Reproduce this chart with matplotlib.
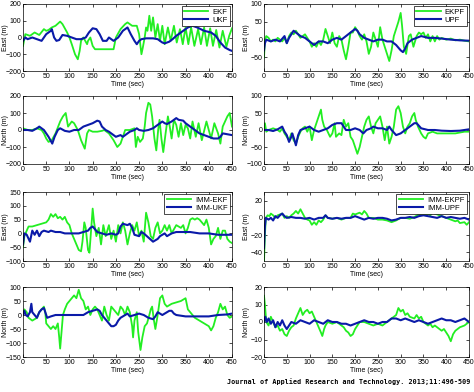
import matplotlib
matplotlib.use("Agg")
import matplotlib.pyplot as plt

# ---- data (time in sec, error in m) ----
t_ekf_e = [0, 5, 15, 25, 35, 45, 50, 55, 62, 70, 80, 85, 95, 100, 105, 112, 118, 122, 125, 130, 138, 140, 145, 150, 155, 175, 195, 200, 210, 220, 225, 235, 245, 250, 255, 258, 262, 265, 268, 272, 276, 280, 285, 290, 295, 300, 305, 312, 318, 325, 331, 338, 344, 350, 356, 362, 369, 377, 383, 390, 396, 403, 409, 416, 423, 430, 438, 444, 450]
ekf_e = [-50, 20, 10, 30, 15, 50, 40, 45, 60, 70, 95, 80, 30, 0, -40, -100, -130, -80, -20, 0, -40, -20, 0, -50, -70, -70, -70, 0, 50, 80, 90, 70, 70, 20, -100, -60, 0, 60, 40, 130, 40, 120, 0, 80, -20, 70, -40, 60, -20, 70, -30, 50, -40, 60, -40, 60, -50, 50, -40, 60, -50, 55, -50, 45, -60, 40, -55, 10, 55]
t_ukf_e = [0, 5, 10, 20, 30, 40, 45, 50, 60, 62, 67, 72, 78, 85, 95, 105, 115, 125, 135, 142, 150, 158, 165, 172, 180, 185, 190, 195, 205, 215, 220, 225, 232, 240, 245, 250, 255, 265, 280, 290, 300, 305, 315, 322, 330, 340, 355, 365, 375, 390, 405, 415, 425, 435, 445, 450]
ukf_e = [-20, 0, -10, 0, -10, -20, 0, 20, 40, 50, 0, -20, -15, 15, 10, 0, -10, -10, 0, 30, 55, 50, 20, -20, -20, 0, -10, -20, 0, 40, 50, 60, 20, -20, -40, -20, -10, -5, -5, -10, -30, -35, -25, -10, 10, 30, 60, 70, 60, 40, 30, 10, -30, -60, -75, -80]

t_ekf_n = [0, 10, 20, 30, 40, 45, 50, 55, 62, 70, 80, 86, 92, 97, 105, 110, 118, 125, 133, 138, 142, 150, 160, 170, 175, 185, 195, 203, 210, 215, 220, 230, 240, 243, 247, 252, 258, 262, 265, 270, 274, 278, 283, 287, 291, 294, 298, 302, 307, 312, 316, 320, 325, 330, 335, 340, 345, 350, 355, 360, 365, 372, 378, 385, 395, 405, 412, 420, 425, 430, 440, 445, 450]
ekf_n = [10, 0, 0, 10, 0, -20, -50, -70, -60, -20, 50, 80, 100, 20, 50, 40, 0, -60, -110, -20, 0, -10, -10, -5, 0, -20, -60, -100, -80, -40, 0, 0, 10, -100, -40, -70, -50, 20, 100, 160, 150, 80, -50, -120, 0, 60, -50, -130, -20, 80, 20, -50, 60, 30, -40, 40, -30, 30, 10, -50, 50, -40, 40, -60, 50, -50, 40, -20, -80, 20, 80, 100, 20]
t_ukf_n = [0, 10, 20, 30, 35, 45, 55, 63, 68, 75, 80, 90, 100, 110, 120, 130, 140, 150, 160, 165, 170, 178, 185, 195, 200, 210, 215, 220, 225, 230, 240, 245, 250, 260, 270, 280, 290, 300, 305, 310, 320, 330, 335, 345, 350, 360, 370, 380, 390, 400, 410, 420, 425, 430, 440, 450]
ukf_n = [0, 0, -5, 10, 20, 0, -40, -80, -40, 0, 10, -5, -10, 0, 0, 20, 30, 40, 55, 50, 20, 0, -10, -30, -40, -30, -40, -30, -20, -10, 0, 10, 0, -5, 0, 10, 30, 50, 40, 35, 50, 70, 60, 55, 40, 20, 0, -20, -30, -40, -50, -50, -40, -20, -25, -30]

t_ekpf_e = [0, 2, 5, 10, 15, 20, 25, 30, 35, 40, 45, 50, 55, 60, 65, 70, 75, 80, 85, 90, 95, 100, 105, 110, 115, 120, 125, 130, 135, 140, 145, 150, 155, 160, 165, 170, 175, 180, 185, 190, 195, 200, 205, 210, 215, 220, 225, 230, 235, 240, 245, 250, 255, 260, 265, 270, 275, 280, 285, 290, 295, 300, 303, 307, 312, 318, 322, 328, 335, 340, 345, 350, 355, 360, 365, 370, 375, 380, 385, 390, 400, 410, 420, 430, 440, 450]
ekpf_e = [-50, 0, 10, 5, -5, 0, -5, 5, 0, -5, 5, -10, 10, 20, 15, 25, 15, 5, 10, 15, 5, -5, -20, -10, -20, -5, -15, 0, 30, 10, -10, 20, -10, -20, 10, 0, -30, -55, -20, 20, 20, 35, 25, 10, 0, 15, -5, -40, -20, 20, 0, -20, 35, 0, -20, -40, -60, -30, 10, 30, 50, 75, 40, -20, -40, 10, 15, -20, 10, 20, 15, 20, 5, 15, -5, 10, -5, 10, 0, 5, 0, 3, -2, 0, -3, -5]
t_upf_e = [0, 2, 5, 15, 25, 35, 45, 50, 55, 60, 65, 70, 80, 90, 100, 110, 120, 130, 140, 150, 160, 170, 180, 190, 200, 205, 210, 220, 230, 240, 250, 260, 270, 280, 290, 300, 305, 310, 315, 325, 335, 345, 360, 375, 390, 410, 430, 450]
upf_e = [-30, -10, 0, -5, 0, -5, 10, -10, 5, 15, 25, 20, 10, 5, -5, -15, -5, -5, -10, 0, 5, 0, 10, 20, 30, 25, 15, 5, 0, -5, 0, 0, -5, -5, -15, -30, -35, -25, -10, 0, 5, 10, 5, 5, 3, 0, -2, -3]

t_ekpf_n = [0, 2, 5, 10, 20, 30, 35, 40, 45, 50, 55, 60, 65, 70, 75, 80, 85, 90, 95, 100, 105, 110, 115, 120, 125, 128, 132, 138, 145, 150, 155, 158, 165, 170, 175, 180, 185, 190, 195, 200, 205, 210, 215, 220, 225, 230, 235, 240, 245, 250, 255, 260, 265, 270, 275, 280, 285, 290, 295, 300, 305, 310, 315, 320, 325, 330, 333, 338, 345, 350, 355, 360, 370, 380, 400, 420, 440, 450]
ekpf_n = [0, 20, -5, 0, 5, 0, -5, 5, -10, -20, -30, -10, -30, -40, -20, -5, 5, 10, -5, 10, -30, 0, 20, 40, 60, 30, 10, 0, -20, -10, 20, -20, -10, -15, 30, 10, 20, -20, -30, -50, -70, -50, -20, 10, 30, 40, 10, -10, 20, 30, 40, 10, -30, 10, -40, -20, 10, 60, 70, 50, 10, -10, 10, 20, 40, 50, 30, 10, -10, -20, -25, -10, -5, -10, -10, -10, -5, -5]
t_upf_n = [0, 10, 20, 30, 40, 45, 50, 55, 60, 62, 67, 70, 75, 80, 90, 100, 105, 110, 120, 130, 140, 150, 160, 170, 175, 180, 190, 200, 210, 218, 225, 235, 240, 250, 260, 270, 275, 280, 290, 300, 310, 320, 330, 335, 345, 360, 375, 390, 410, 430, 450]
upf_n = [0, 0, -3, 2, 10, -5, -15, -35, -20, -10, -30, -45, -15, 0, 5, 10, 5, 0, -5, 0, 5, 15, 20, 20, 10, 0, 0, 5, 0, -10, 0, 5, 10, 5, 5, 0, 10, 0, -15, -10, 0, 10, 20, 20, 5, 0, 0, -2, -3, -2, 2]

t_immekf_e = [0, 3, 8, 12, 20, 30, 40, 50, 55, 60, 65, 70, 75, 80, 85, 90, 95, 100, 105, 110, 115, 120, 125, 128, 132, 135, 140, 143, 147, 150, 153, 158, 163, 168, 173, 178, 185, 190, 195, 200, 205, 210, 215, 220, 225, 230, 235, 240, 245, 250, 255, 260, 265, 270, 275, 280, 285, 290, 295, 300, 305, 310, 315, 320, 330, 340, 345, 350, 355, 360, 365, 370, 375, 380, 385, 390, 395, 400, 405, 410, 415, 420, 425, 430, 435, 440, 445, 450]
immekf_e = [-50, -10, 10, 25, 25, 30, 35, 40, 50, 70, 60, 70, 55, 60, 50, 60, 40, 30, 0, -20, -40, -60, -65, -30, 40, 20, -60, -70, 20, 90, 40, -10, 20, -40, 30, -10, 30, -20, 10, -30, 30, 0, 40, 10, -40, 0, 30, 10, 40, -10, 10, -30, 75, 40, -10, -20, 20, 40, 0, 10, 30, 10, 30, 0, 30, 20, 30, 0, 20, 50, 55, 50, 55, 50, 40, 30, 50, 20, -40, -20, -10, 20, -20, 10, 10, -20, -30, -35]
t_immukf_e = [0, 3, 8, 15, 20, 25, 30, 35, 40, 45, 55, 60, 70, 80, 90, 100, 110, 120, 130, 140, 145, 150, 155, 160, 170, 180, 190, 200, 205, 210, 215, 225, 230, 235, 240, 250, 255, 260, 270, 280, 290, 295, 305, 310, 320, 330, 340, 350, 360, 380, 400, 420, 440, 450]
immukf_e = [-40, 0, -5, -30, 10, -5, 10, -10, 5, 10, 5, 10, 5, 5, 0, 0, 0, 0, 5, 10, 20, 25, 15, 5, 0, -5, 0, -5, 0, 25, 35, 30, 35, 20, -5, -10, 5, 0, -15, -30, -20, -10, 0, -10, 0, 5, 5, 5, 5, 0, 0, -5, -5, -5]

t_immekf_n = [0, 3, 8, 12, 20, 30, 35, 40, 45, 48, 50, 55, 60, 65, 70, 75, 78, 80, 83, 86, 90, 95, 100, 105, 110, 115, 120, 125, 130, 135, 140, 145, 150, 155, 160, 165, 170, 175, 180, 185, 190, 195, 200, 205, 210, 215, 220, 225, 230, 235, 237, 240, 245, 248, 253, 257, 262, 267, 272, 275, 278, 282, 285, 290, 295, 300, 305, 310, 320, 330, 340, 345, 350, 355, 365, 370, 380, 390, 400, 405, 410, 415, 420, 425, 430, 435, 440, 445, 450]
immekf_n = [0, 20, 10, -10, -20, -10, 10, 20, 30, 10, -30, -40, -50, -40, -50, -30, -80, -120, -60, 0, 20, 40, 50, 60, 70, 60, 90, 60, 50, 20, 30, 0, 20, 30, 20, 0, -20, 30, 0, -20, 30, 20, 10, 0, 30, 20, 0, 30, 10, -40, -80, -20, 10, -60, -125, -80, -40, -30, 0, 20, 30, -20, -50, 0, 60, 70, 40, 30, 40, 45, 50, 55, 60, 20, 0, -10, -20, -30, -40, -55, -40, -10, 10, 40, 20, 30, 0, -10, -5]
t_immukf_n = [0, 3, 6, 10, 15, 18, 20, 25, 30, 35, 40, 45, 48, 52, 60, 70, 130, 140, 150, 160, 165, 170, 175, 180, 185, 190, 195, 200, 205, 210, 220, 225, 230, 240, 250, 260, 270, 280, 285, 290, 295, 300, 310, 315, 320, 325, 330, 350, 400, 420, 440, 450]
immukf_n = [0, 15, 0, -5, 10, 40, 10, 0, -10, 10, 20, 25, 10, -10, -5, 0, 0, 10, 15, 20, 15, 0, -10, -20, -30, -40, -40, -35, -20, -10, 0, 5, -5, 0, 5, 0, -10, -15, -5, 10, 5, 0, 10, 15, 15, 5, 0, -5, -5, 0, 2, 5]

t_immekpf_e = [0, 2, 4, 8, 12, 15, 20, 25, 30, 40, 45, 50, 55, 60, 65, 70, 75, 80, 85, 90, 95, 100, 105, 110, 115, 120, 125, 130, 135, 140, 150, 160, 170, 180, 190, 195, 200, 210, 215, 220, 225, 230, 240, 250, 260, 270, 280, 290, 300, 310, 320, 330, 340, 350, 355, 360, 365, 370, 380, 390, 400, 410, 420, 425, 430, 440, 445, 450]
immekpf_e = [-50, -20, 0, 3, 2, 5, 3, 0, 3, 5, 0, 2, 0, 3, 5, 8, 5, 10, 5, 0, -2, -3, -8, -5, -8, -3, -5, -2, 3, 0, -1, 0, -2, 0, 0, 5, 4, 6, 4, 8, 5, 0, 0, -2, -2, -3, -5, -3, 0, 0, -1, 1, 4, 5, 3, 5, 3, 6, 4, 2, 0, -2, -4, -3, -6, -5, -8, -5]
t_immupf_e = [0, 2, 4, 10, 15, 20, 25, 30, 35, 40, 45, 50, 60, 70, 80, 90, 100, 110, 120, 130, 135, 140, 150, 160, 170, 180, 190, 200, 210, 220, 230, 240, 250, 260, 270, 280, 290, 300, 310, 320, 330, 340, 350, 360, 370, 380, 390, 400, 410, 420, 430, 440, 450]
immupf_e = [-35, -10, 0, -2, 0, -3, 2, 0, 3, 5, 2, 0, 1, 0, 0, -1, 0, -2, 0, 0, 3, 0, -1, 0, -1, 0, 0, 2, 0, -2, 0, -1, 0, 0, -1, -3, -2, 0, 0, 1, 0, 2, 3, 2, 1, 0, 2, 0, 1, 0, -1, 0, -2]

t_immekpf_n = [0, 2, 5, 10, 15, 20, 25, 30, 35, 40, 45, 50, 55, 60, 65, 70, 75, 80, 85, 90, 95, 100, 105, 110, 115, 120, 125, 128, 132, 135, 140, 150, 160, 170, 175, 180, 185, 190, 195, 200, 205, 210, 220, 230, 240, 250, 260, 270, 280, 290, 295, 300, 305, 310, 315, 320, 330, 335, 340, 345, 350, 360, 365, 370, 375, 380, 390, 395, 400, 405, 410, 415, 420, 430, 440, 450]
immekpf_n = [15, 10, 0, -2, 3, 0, -3, -2, -5, -4, -7, -8, -5, -3, -2, 2, 5, 8, 4, 6, 7, 5, 6, 3, 0, -3, -6, -8, -4, -2, 0, -1, 0, -2, -3, -5, -6, -8, -7, -4, -2, 0, 0, -1, -2, -1, -2, 0, 2, 4, 8, 6, 7, 4, 5, 3, 2, 4, 2, 3, 0, -2, -1, -3, -2, -3, -5, -4, -6, -8, -11, -7, -5, -3, -2, 0]
t_immupf_n = [0, 3, 6, 10, 15, 20, 25, 30, 35, 40, 45, 50, 55, 60, 70, 80, 90, 100, 110, 120, 130, 140, 150, 160, 170, 180, 190, 200, 210, 220, 230, 240, 250, 260, 270, 280, 290, 300, 310, 320, 330, 340, 350, 360, 370, 380, 390, 400, 410, 420, 430, 440, 450]
immupf_n = [0, 3, 0, 2, -1, 1, -3, 0, -2, 1, -2, -4, -2, 0, -1, 1, 0, -1, 1, 0, -1, 1, 0, 0, -1, -1, -2, -1, 0, 1, 0, 0, -1, 0, 0, 2, 2, 1, 2, 1, 0, 1, 0, -1, 0, 1, 2, 1, 1, 0, 1, 2, 0]

GREEN = "#22ee22"
BLUE = "#0a1aa8"
W, H = 474, 392

plt.rcParams["font.family"] = ["Liberation Sans", "DejaVu Sans"]
plt.rcParams["font.size"] = 5

fig = plt.figure(figsize=(W / 100, H / 100), dpi=100)


def panel(left, right, top, bottom, series, ylim, yticks, ylabel, legend=None):
    ax = fig.add_axes([left / W, 1 - bottom / H, (right - left) / W, (bottom - top) / H])
    (tg, g), (tb, b) = series
    lg, = ax.plot(tg, g, color=GREEN, lw=1.3)
    lb, = ax.plot(tb, b, color=BLUE, lw=1.5)
    ax.set_xlim(0, 450)
    ax.set_ylim(*ylim)
    ax.set_xticks(range(0, 451, 50))
    ax.set_yticks(yticks)
    ax.tick_params(direction="in", length=2, width=0.5, pad=1.2, top=True, right=True)
    for s in ax.spines.values():
        s.set_linewidth(0.5)
    ax.set_xlabel("Time (sec)", labelpad=1)
    ax.set_ylabel(ylabel)
    # right edge of the y label sits ~14 px left of the axis
    ax.yaxis.set_label_coords(-14 / (right - left), 0.5)
    if legend:
        ax.legend([lg, lb], legend, loc="upper right", fontsize=5.5, fancybox=False,
                  edgecolor="black", framealpha=1, borderpad=0.3, labelspacing=0.1,
                  handlelength=3.2, handletextpad=0.5, borderaxespad=0.3).get_frame().set_linewidth(0.5)
    return ax


LX = (23, 232)
RX = (264, 469)
ROWS = [(4, 71), (96, 164), (192, 261), (287, 357)]

panel(*LX, *ROWS[0], [(t_ekf_e, ekf_e), (t_ukf_e, ukf_e)], (-200, 200), [-200, -100, 0, 100, 200], "East (m)", ["EKF", "UKF"])
panel(*LX, *ROWS[1], [(t_ekf_n, ekf_n), (t_ukf_n, ukf_n)], (-200, 200), [-200, -100, 0, 100, 200], "North (m)")
panel(*LX, *ROWS[2], [(t_immekf_e, immekf_e), (t_immukf_e, immukf_e)], (-100, 150), [-100, -50, 0, 50, 100, 150], "East (m)", ["IMM-EKF", "IMM-UKF"])
panel(*LX, *ROWS[3], [(t_immekf_n, immekf_n), (t_immukf_n, immukf_n)], (-150, 100), [-150, -100, -50, 0, 50, 100], "North (m)")

panel(*RX, *ROWS[0], [(t_ekpf_e, ekpf_e), (t_upf_e, upf_e)], (-88, 100), [-50, 0, 50, 100], "East (m)", ["EKPF", "UPF"])
panel(*RX, *ROWS[1], [(t_ekpf_n, ekpf_n), (t_upf_n, upf_n)], (-100, 100), [-100, -50, 0, 50, 100], "North (m)")
panel(*RX, *ROWS[2], [(t_immekpf_e, immekpf_e), (t_immupf_e, immupf_e)], (-50, 30), [-40, -20, 0, 20], "East (m)", ["IMM-EKPF", "IMM-UPF"])
panel(*RX, *ROWS[3], [(t_immekpf_n, immekpf_n), (t_immupf_n, immupf_n)], (-20, 20), [-20, -10, 0, 10, 20], "North (m)")

fig.text(470 / W, 1 - 382 / H, "Journal of Applied Research and Technology. 2013;11:496-509",
         ha="right", va="center", family="DejaVu Sans Mono", fontsize=4.9, fontweight="bold")

fig.savefig("out.png", dpi=100)
